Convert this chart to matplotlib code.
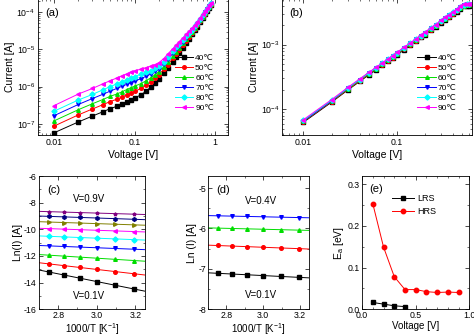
import numpy as np
import matplotlib
matplotlib.use("Agg")
import matplotlib.pyplot as plt
from matplotlib.ticker import MultipleLocator, FixedLocator, FixedFormatter

plt.rcParams["font.family"] = ["Liberation Sans", "DejaVu Sans"]
plt.rcParams["font.size"] = 6.5
plt.rcParams["axes.unicode_minus"] = False
plt.rcParams["axes.linewidth"] = 0.6
plt.rcParams["mathtext.default"] = "regular"

# I-V sweeps, HRS (a) and LRS (b), log10 of current in A
temps = [40, 50, 60, 70, 80, 90]
temp_labels = ["40\u2103", "50\u2103", "60\u2103", "70\u2103", "80\u2103", "90\u2103"]

volts_a = [0.01, 0.02, 0.03, 0.04, 0.05, 0.06, 0.07, 0.08, 0.09, 0.10, 0.12, 0.14,
           0.16, 0.18, 0.20, 0.23, 0.26, 0.30, 0.33, 0.36, 0.40, 0.44, 0.48, 0.52,
           0.56, 0.60, 0.65, 0.70, 0.75, 0.80, 0.85, 0.90]
logi_a_40 = [-7.24, -6.95, -6.79, -6.68, -6.59, -6.53, -6.47, -6.41, -6.36, -6.31, -6.22, -6.12,
             -6.01, -5.90, -5.79, -5.64, -5.50, -5.33, -5.21, -5.10, -4.96, -4.83, -4.71, -4.60,
             -4.49, -4.39, -4.27, -4.16, -4.06, -3.97, -3.89, -3.82]
logi_a_50 = [-7.06, -6.76, -6.60, -6.49, -6.40, -6.34, -6.28, -6.22, -6.17, -6.13, -6.05, -5.96,
             -5.87, -5.78, -5.68, -5.54, -5.41, -5.24, -5.13, -5.02, -4.89, -4.77, -4.66, -4.56,
             -4.45, -4.36, -4.24, -4.14, -4.04, -3.95, -3.87, -3.80]
logi_a_60 = [-6.92, -6.62, -6.46, -6.35, -6.26, -6.20, -6.14, -6.08, -6.03, -5.99, -5.92, -5.84,
             -5.76, -5.68, -5.60, -5.47, -5.33, -5.18, -5.06, -4.96, -4.84, -4.73, -4.62, -4.53,
             -4.43, -4.33, -4.22, -4.12, -4.02, -3.93, -3.86, -3.79]
logi_a_70 = [-6.78, -6.48, -6.32, -6.21, -6.12, -6.05, -5.99, -5.94, -5.89, -5.85, -5.79, -5.72,
             -5.66, -5.59, -5.52, -5.39, -5.26, -5.11, -5.00, -4.90, -4.79, -4.69, -4.58, -4.49,
             -4.40, -4.31, -4.20, -4.10, -4.00, -3.92, -3.85, -3.78]
logi_a_80 = [-6.66, -6.36, -6.21, -6.09, -6.00, -5.93, -5.87, -5.82, -5.77, -5.73, -5.67, -5.62,
             -5.57, -5.51, -5.45, -5.33, -5.20, -5.05, -4.95, -4.86, -4.75, -4.65, -4.55, -4.47,
             -4.38, -4.29, -4.18, -4.08, -3.99, -3.91, -3.83, -3.76]
logi_a_90 = [-6.51, -6.20, -6.05, -5.93, -5.84, -5.77, -5.71, -5.66, -5.61, -5.58, -5.53, -5.49,
             -5.45, -5.41, -5.36, -5.25, -5.12, -4.98, -4.88, -4.79, -4.69, -4.60, -4.51, -4.43,
             -4.35, -4.26, -4.16, -4.06, -3.97, -3.89, -3.82, -3.75]

volts_b = [0.01, 0.02, 0.03, 0.04, 0.05, 0.06, 0.07, 0.08, 0.09, 0.10, 0.12, 0.14,
           0.16, 0.18, 0.20, 0.23, 0.26, 0.30, 0.33, 0.36, 0.40, 0.44, 0.48, 0.52,
           0.56, 0.60]
logi_b_40 = [-4.20, -3.89, -3.70, -3.57, -3.47, -3.39, -3.32, -3.26, -3.21, -3.16, -3.08, -3.01,
             -2.95, -2.89, -2.85, -2.78, -2.73, -2.66, -2.62, -2.58, -2.53, -2.49, -2.45, -2.41,
             -2.40, -2.40]
logi_b_50 = [-4.19, -3.88, -3.69, -3.56, -3.46, -3.38, -3.31, -3.25, -3.20, -3.15, -3.07, -3.00,
             -2.94, -2.88, -2.84, -2.77, -2.72, -2.65, -2.61, -2.57, -2.52, -2.48, -2.44, -2.40,
             -2.39, -2.39]
logi_b_60 = [-4.18, -3.87, -3.68, -3.55, -3.45, -3.37, -3.30, -3.24, -3.19, -3.14, -3.06, -2.99,
             -2.93, -2.87, -2.83, -2.76, -2.71, -2.64, -2.60, -2.56, -2.51, -2.47, -2.43, -2.40,
             -2.39, -2.39]
logi_b_70 = [-4.18, -3.87, -3.67, -3.54, -3.44, -3.36, -3.29, -3.23, -3.18, -3.13, -3.05, -2.98,
             -2.92, -2.87, -2.82, -2.75, -2.70, -2.64, -2.59, -2.55, -2.51, -2.46, -2.42, -2.39,
             -2.38, -2.38]
logi_b_80 = [-4.17, -3.86, -3.67, -3.54, -3.44, -3.36, -3.29, -3.23, -3.18, -3.13, -3.05, -2.98,
             -2.92, -2.86, -2.82, -2.75, -2.70, -2.63, -2.59, -2.55, -2.50, -2.46, -2.42, -2.39,
             -2.38, -2.38]
logi_b_90 = [-4.16, -3.85, -3.66, -3.53, -3.43, -3.35, -3.28, -3.22, -3.17, -3.12, -3.04, -2.97,
             -2.91, -2.85, -2.81, -2.74, -2.69, -2.62, -2.58, -2.54, -2.49, -2.45, -2.41, -2.38,
             -2.37, -2.37]

# Arrhenius data, ln(I) at 90..40 C
arr_temps = [90, 80, 70, 60, 50, 40]
hrs_volts = [0.1, 0.2, 0.3, 0.4, 0.5, 0.6, 0.7, 0.8, 0.9]
ln_hrs = [
    [-13.20, -13.45, -13.68, -13.95, -14.20, -14.48],
    [-12.60, -12.74, -12.87, -13.02, -13.18, -13.34],
    [-11.95, -12.02, -12.09, -12.17, -12.26, -12.35],
    [-11.25, -11.29, -11.34, -11.39, -11.44, -11.50],
    [-10.53, -10.57, -10.62, -10.67, -10.72, -10.78],
    [-9.95, -9.99, -10.03, -10.08, -10.12, -10.17],
    [-9.46, -9.49, -9.53, -9.57, -9.62, -9.67],
    [-9.03, -9.07, -9.11, -9.15, -9.20, -9.25],
    [-8.68, -8.71, -8.74, -8.78, -8.82, -8.87],
]
lrs_volts = [0.1, 0.2, 0.3, 0.4]
ln_lrs = [
    [-7.11, -7.13, -7.15, -7.17, -7.19, -7.21],
    [-6.42, -6.44, -6.45, -6.47, -6.48, -6.50],
    [-5.99, -6.00, -6.01, -6.02, -6.03, -6.04],
    [-5.69, -5.69, -5.70, -5.71, -5.72, -5.73],
]

# activation energy vs voltage
ea_lrs_v = [0.1, 0.2, 0.3, 0.4]
ea_lrs = [0.016, 0.012, 0.008, 0.006]
ea_hrs_v = [0.1, 0.2, 0.3, 0.4, 0.5, 0.6, 0.7, 0.8, 0.9]
ea_hrs = [0.253, 0.149, 0.078, 0.047, 0.047, 0.042, 0.040, 0.041, 0.040]

colors = ["black", "red", "#00dd00", "blue", "cyan", "magenta", "#808000", "#000080", "#800080"]
markers = ["s", "o", "^", "v", "D", "<", ">", "h", "*"]


def style_axes(ax, pad=2):
    ax.tick_params(which="both", direction="in", top=True, right=True, labelsize=6.3, pad=pad)
    ax.tick_params(which="major", length=3, width=0.5)
    ax.tick_params(which="minor", length=1.6, width=0.4)


def plot_iv(ax, volts, curves, xlim, ylim, tag, leg_anchor):
    for logi, lab, c, m in zip(curves, temp_labels, colors, markers):
        ax.plot(volts, 10 ** np.array(logi), color=c, marker=m, ms=2.6, lw=0.7, label=lab)
    ax.set_xscale("log")
    ax.set_yscale("log")
    ax.set_xlim(*xlim)
    ax.set_ylim(*ylim)
    ax.xaxis.set_major_locator(FixedLocator([0.01, 0.1, 1]))
    ax.xaxis.set_major_formatter(FixedFormatter(["0.01", "0.1", "1"]))
    ax.set_xlabel("Voltage [V]", fontsize=7.5, labelpad=2)
    ax.set_ylabel("Current [A]", fontsize=7.5, labelpad=1)
    ax.text(0.04, 0.88, tag, transform=ax.transAxes, fontsize=8)
    ax.legend(loc="upper left", bbox_to_anchor=leg_anchor, frameon=False, fontsize=6,
              handlelength=2.2, handletextpad=0.2, labelspacing=0.28, borderpad=0)
    style_axes(ax)


def plot_arrhenius(ax, volts, ln_vals, ylim, tag, ylabel):
    inv_t = 1000.0 / (np.array(arr_temps) + 273.15)
    xs = np.array([2.7, 3.25])
    for i, vals in enumerate(ln_vals):
        k, b = np.polyfit(inv_t, vals, 1)
        ax.plot(xs, k * xs + b, color=colors[i], lw=0.7)
        ax.plot(inv_t, vals, ls="none", marker=markers[i], color=colors[i], ms=2.6)
    ax.set_xlim(2.7, 3.25)
    ax.set_ylim(*ylim)
    ax.xaxis.set_major_locator(MultipleLocator(0.2))
    ax.xaxis.set_minor_locator(MultipleLocator(0.1))
    ax.xaxis.set_major_formatter(plt.FormatStrFormatter("%.1f"))
    ax.set_xlabel("1000/T [K$^{-1}$]", fontsize=7, labelpad=0.5)
    ax.set_ylabel(ylabel, fontsize=7.5, labelpad=1)
    ax.text(0.08, 0.87, tag, transform=ax.transAxes, fontsize=8)
    style_axes(ax, pad=1.5)


fig = plt.figure(figsize=(4.74, 3.36), dpi=100)

ax_a = fig.add_axes([0.080, 0.598, 0.401, 0.404])
plot_iv(ax_a, volts_a, [logi_a_40, logi_a_50, logi_a_60, logi_a_70, logi_a_80, logi_a_90],
        (0.0063, 1.45), (5e-8, 2.2e-4), "(a)", (0.70, 0.63))

ax_b = fig.add_axes([0.595, 0.598, 0.401, 0.404])
plot_iv(ax_b, volts_b, [logi_b_40, logi_b_50, logi_b_60, logi_b_70, logi_b_80, logi_b_90],
        (0.0059, 0.64), (4e-5, 5e-3), "(b)", (0.69, 0.63))

ax_c = fig.add_axes([0.082, 0.080, 0.224, 0.396])
plot_arrhenius(ax_c, hrs_volts, ln_hrs, (-16, -6), "(c)", "Ln(I) [A]")
ax_c.yaxis.set_major_locator(MultipleLocator(2))
ax_c.yaxis.set_minor_locator(MultipleLocator(1))
ax_c.text(2.96, -7.7, "V=0.9V", ha="center", va="center", fontsize=7)
ax_c.text(2.96, -15.0, "V=0.1V", ha="center", va="center", fontsize=7)

ax_d = fig.add_axes([0.439, 0.080, 0.213, 0.396])
plot_arrhenius(ax_d, lrs_volts, ln_lrs, (-8, -4.7), "(d)", "Ln (I) [A]")
ax_d.yaxis.set_major_locator(MultipleLocator(1))
ax_d.yaxis.set_minor_locator(MultipleLocator(0.5))
ax_d.text(2.99, -5.33, "V=0.4V", ha="center", va="center", fontsize=7)
ax_d.text(2.99, -7.64, "V=0.1V", ha="center", va="center", fontsize=7)

ax_e = fig.add_axes([0.764, 0.080, 0.226, 0.396])
ax_e.plot(ea_lrs_v, ea_lrs, color="black", marker="s", ms=2.8, lw=0.7, label="LRS")
ax_e.plot(ea_hrs_v, ea_hrs, color="red", marker="o", ms=3.2, lw=0.7, label="HRS")
ax_e.set_xlim(0, 1.0)
ax_e.set_ylim(0, 0.32)
ax_e.xaxis.set_major_locator(MultipleLocator(0.5))
ax_e.xaxis.set_minor_locator(MultipleLocator(0.1))
ax_e.yaxis.set_major_locator(MultipleLocator(0.1))
ax_e.yaxis.set_minor_locator(MultipleLocator(0.05))
ax_e.xaxis.set_major_formatter(plt.FormatStrFormatter("%.1f"))
ax_e.yaxis.set_major_formatter(plt.FormatStrFormatter("%.1f"))
ax_e.set_xlabel("Voltage [V]", fontsize=7, labelpad=0.5)
ax_e.set_ylabel("E$_a$ [eV]", fontsize=7.5, labelpad=1)
ax_e.text(0.07, 0.88, "(e)", transform=ax_e.transAxes, fontsize=8)
ax_e.legend(loc="upper left", bbox_to_anchor=(0.24, 0.9), frameon=False, fontsize=6.5,
            handlelength=2.4, handletextpad=0.4, labelspacing=0.5, borderpad=0)
style_axes(ax_e, pad=1.5)

fig.savefig("out.png", dpi=100)
